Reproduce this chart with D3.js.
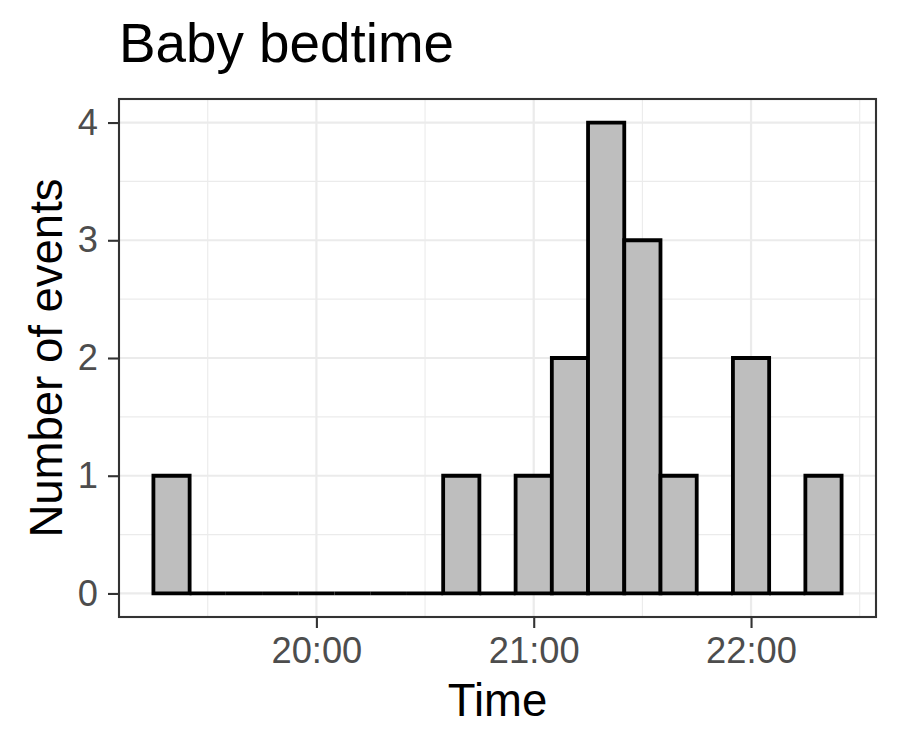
<!DOCTYPE html>
<html>
<head>
<meta charset="utf-8">
<script src="https://cdn.jsdelivr.net/npm/d3@7"></script>
<style>
  html, body { margin: 0; padding: 0; background: #ffffff; }
  svg { display: block; }
  text { font-family: "Liberation Sans", Arial, Helvetica, sans-serif; }
</style>
</head>
<body>
<svg id="chart" width="900" height="750"></svg>
<script>
// ---- data ----
const binStarts = ["19:15","19:25","19:35","19:45","19:55","20:05","20:15","20:25","20:35","20:45",
                   "20:55","21:05","21:15","21:25","21:35","21:45","21:55","22:05","22:15"];
const binWidthMin = 10;
const counts = [1,0,0,0,0,0,0,0,1,0,1,2,4,3,1,0,2,0,1];
const xTickLabels = ["20:00","21:00","22:00"];
const xMinorLabels = ["19:30","20:30","21:30","22:30"];
const yTicks = [0,1,2,3,4];
const yMinor = [0.5,1.5,2.5,3.5];
const titleText = "Baby bedtime";
const xTitle = "Time";
const yTitle = "Number of events";

// ---- helpers ----
const parse = d3.timeParse("%Y-%m-%d %H:%M:%S");
const t = s => parse("2020-01-01 " + (s.length === 5 ? s + ":00" : s));

const svg = d3.select("#chart");
const P = { left: 119, right: 876, top: 99, bottom: 617 };

const starts = binStarts.map(t);
const dataStart = starts[0];
const dataEnd = d3.timeMinute.offset(starts[starts.length - 1], binWidthMin);
const span = dataEnd - dataStart;
const x = d3.scaleTime()
  .domain([new Date(+dataStart - span * 0.05), new Date(+dataEnd + span * 0.05)])
  .range([P.left, P.right]);
const yMax = d3.max(counts);
const y = d3.scaleLinear()
  .domain([-yMax * 0.05, yMax * 1.05])
  .range([P.bottom, P.top]);

// panel background
svg.append("rect").attr("x", P.left).attr("y", P.top)
  .attr("width", P.right - P.left).attr("height", P.bottom - P.top)
  .attr("fill", "#ffffff");

// grid
const grid = svg.append("g");
xMinorLabels.map(t).forEach(d => {
  grid.append("line").attr("x1", x(d)).attr("x2", x(d)).attr("y1", P.top).attr("y2", P.bottom)
    .attr("stroke", "#EBEBEB").attr("stroke-width", 1.1);
});
yMinor.forEach(d => {
  grid.append("line").attr("x1", P.left).attr("x2", P.right).attr("y1", y(d)).attr("y2", y(d))
    .attr("stroke", "#EBEBEB").attr("stroke-width", 1.1);
});
xTickLabels.map(t).forEach(d => {
  grid.append("line").attr("x1", x(d)).attr("x2", x(d)).attr("y1", P.top).attr("y2", P.bottom)
    .attr("stroke", "#EBEBEB").attr("stroke-width", 2.2);
});
yTicks.forEach(d => {
  grid.append("line").attr("x1", P.left).attr("x2", P.right).attr("y1", y(d)).attr("y2", y(d))
    .attr("stroke", "#EBEBEB").attr("stroke-width", 2.2);
});

// bars (paths so zero-count bins still show their outline)
const bins = starts.map((s, i) => ({ x0: s, x1: d3.timeMinute.offset(s, binWidthMin), n: counts[i] }));
svg.append("g").selectAll("path").data(bins).join("path")
  .attr("d", d => `M${x(d.x0)},${y(0)}V${y(d.n)}H${x(d.x1)}V${y(0)}Z`)
  .attr("fill", "#BEBEBE")
  .attr("stroke", "#000000")
  .attr("stroke-width", 3.8)
  .attr("stroke-linejoin", "miter");

// panel border
svg.append("rect").attr("x", P.left).attr("y", P.top)
  .attr("width", P.right - P.left).attr("height", P.bottom - P.top)
  .attr("fill", "none").attr("stroke", "#333333").attr("stroke-width", 2.1);

// axes
const xAxis = d3.axisBottom(x)
  .tickValues(xTickLabels.map(t))
  .tickFormat(d3.timeFormat("%H:%M"))
  .tickSize(11).tickPadding(9);
const gx = svg.append("g").attr("transform", `translate(0,${P.bottom})`).call(xAxis);
gx.select(".domain").remove();
gx.selectAll(".tick line").attr("stroke", "#333333").attr("stroke-width", 2.1);
gx.selectAll(".tick text").attr("fill", "#4D4D4D").attr("font-size", 36.3)
  .attr("font-family", "Liberation Sans, Arial, sans-serif");

const yAxis = d3.axisLeft(y).tickValues(yTicks).tickFormat(d3.format("d"))
  .tickSize(11).tickPadding(10);
const gy = svg.append("g").attr("transform", `translate(${P.left},0)`).call(yAxis);
gy.select(".domain").remove();
gy.selectAll(".tick line").attr("stroke", "#333333").attr("stroke-width", 2.1);
gy.selectAll(".tick text").attr("fill", "#4D4D4D").attr("font-size", 36.3)
  .attr("font-family", "Liberation Sans, Arial, sans-serif");

// titles
svg.append("text").attr("x", P.left).attr("y", 62)
  .attr("font-size", 54.8).attr("fill", "#000").text(titleText);
svg.append("text").attr("x", (P.left + P.right) / 2).attr("y", 716)
  .attr("text-anchor", "middle").attr("font-size", 45.5).attr("fill", "#000").text(xTitle);
svg.append("text")
  .attr("transform", `translate(62,${(P.top + P.bottom) / 2}) rotate(-90)`)
  .attr("text-anchor", "middle").attr("font-size", 45.5).attr("fill", "#000").text(yTitle);
</script>
</body>
</html>
